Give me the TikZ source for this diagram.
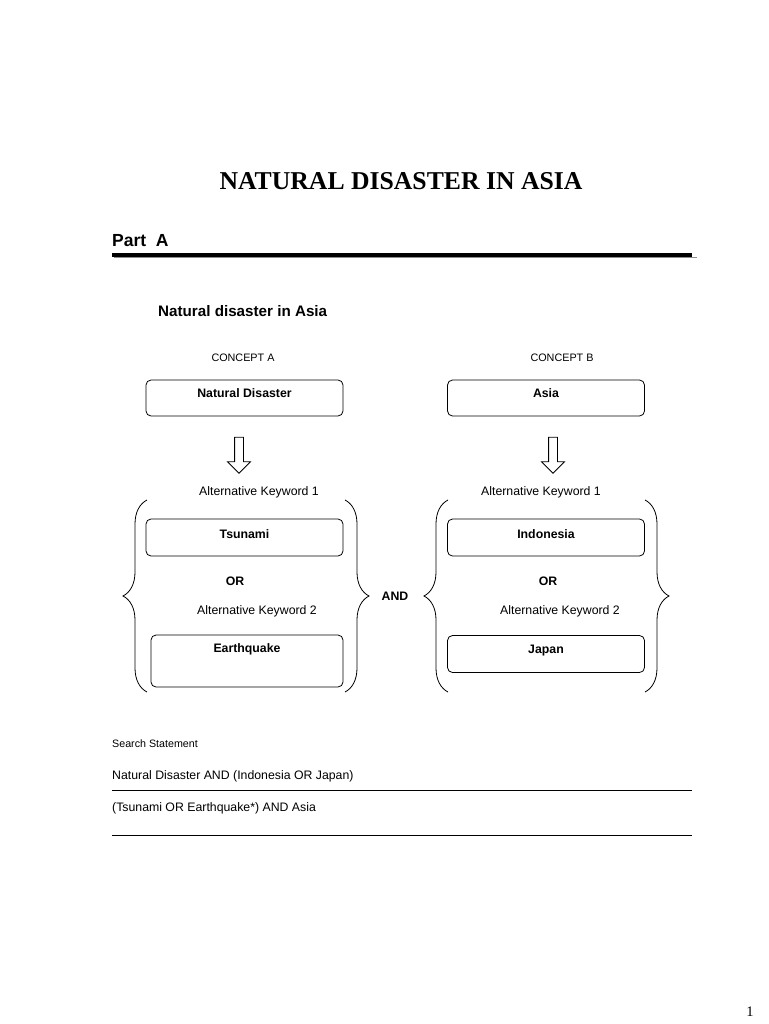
\documentclass[tikz,border=0pt]{standalone}
\usepackage{fontspec}
\setmainfont{Liberation Sans}
\newfontfamily\titlefont{Liberation Serif}
\usetikzlibrary{shapes.arrows, decorations.pathreplacing}

\begin{document}
\begin{tikzpicture}[x=1pt, y=-1pt,
    kbox/.style={draw=black, line width=0.8pt, rounded corners=5pt, minimum width=197pt, minimum height=37pt, inner sep=0pt},
    ktext/.style={font=\fontsize{12.3}{14}\selectfont\bfseries, anchor=center},
    plain/.style={font=\fontsize{12.3}{14}\selectfont},
    downarrow/.style={draw=black, line width=0.8pt, single arrow, rotate=-90, minimum height=36pt, inner sep=4pt, single arrow head extend=7pt, single arrow head indent=0pt},
    kbrace/.style={draw=black, line width=0.8pt, decorate, decoration={brace, amplitude=24pt, aspect=0.5}}]
    \useasboundingbox (0,0) rectangle (768,1024);
    % heading
    \node[font=\titlefont\fontsize{25.7}{30}\selectfont\bfseries] (title) at (401,181) {NATURAL DISASTER IN ASIA};
    \node[font=\fontsize{17.5}{20}\selectfont\bfseries, anchor=west, inner sep=0pt] (part) at (112,241) {Part\ \ A};
    \draw[draw=black!45, line width=1.5pt] (114,257.5) -- (697,257.5);
    \draw[draw=black, line width=3.2pt] (112,255) -- (692,255);
    \node[font=\fontsize{15.2}{18}\selectfont\bfseries, anchor=west, inner sep=0pt] (sub) at (158,311) {Natural disaster in Asia};
    % concept A
    \node[font=\fontsize{10.8}{13}\selectfont] (ca) at (243,358) {CONCEPT A};
    \node[kbox, minimum height=36pt] (nd) at (244.5,398) {};
    \node[ktext] at ([yshift=-14pt]nd.north) {Natural Disaster};
    \node[downarrow] (arra) at (239,453) {};
    \node[plain] (alta1) at (259,492) {Alternative Keyword 1};
    \node[kbox] (ts) at (244.5,537.5) {};
    \node[ktext] at ([yshift=-15pt]ts.north) {Tsunami};
    \node[ktext] (ora) at (235,581) {OR};
    \node[plain] (alta2) at (257,611) {Alternative Keyword 2};
    \node[kbox, minimum width=192pt, minimum height=52pt] (eq) at (247,661) {};
    \node[ktext] at ([yshift=-15pt]eq.north) {Earthquake};
    \draw[kbrace] (147,692) -- (147,500);
    \draw[kbrace] (345,500) -- (345,692);
    % and
    \node[ktext] (and) at (395,596) {AND};
    % concept B
    \node[font=\fontsize{10.8}{13}\selectfont] (cb) at (562,358) {CONCEPT B};
    \node[kbox, minimum height=36pt] (as) at (546,398) {};
    \node[ktext] at ([yshift=-14pt]as.north) {Asia};
    \node[downarrow] (arrb) at (553,453) {};
    \node[plain] (altb1) at (541,492) {Alternative Keyword 1};
    \node[kbox] (ind) at (546,537.5) {};
    \node[ktext] at ([yshift=-15pt]ind.north) {Indonesia};
    \node[ktext] (orb) at (548,581) {OR};
    \node[plain] (altb2) at (560,611) {Alternative Keyword 2};
    \node[kbox] (jp) at (546,654) {};
    \node[ktext] at ([yshift=-15pt]jp.north) {Japan};
    \draw[kbrace] (448,692) -- (448,500);
    \draw[kbrace] (645,500) -- (645,692);
    % search statement
    \node[font=\fontsize{10.7}{13}\selectfont, anchor=west, inner sep=0pt] (ss) at (112,744) {Search Statement};
    \node[font=\fontsize{12.3}{14}\selectfont, anchor=west, inner sep=0pt] (st1) at (112,776) {Natural Disaster AND (Indonesia OR Japan)};
    \draw[draw=black, line width=0.9pt] (112,790) -- (692,790);
    \node[font=\fontsize{12.3}{14}\selectfont, anchor=west, inner sep=0pt] (st2) at (112,808) {(Tsunami OR Earthquake*) AND Asia};
    \draw[draw=black, line width=0.9pt] (112,835) -- (692,835);
    \node[font=\titlefont\fontsize{14.5}{16}\selectfont] (page) at (750,1012) {1};
\end{tikzpicture}
\end{document}
